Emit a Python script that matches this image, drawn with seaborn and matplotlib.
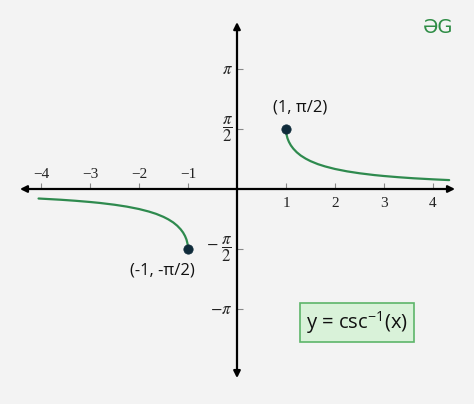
import numpy as np
import pandas as pd
import matplotlib
matplotlib.use("Agg")
import matplotlib.pyplot as plt
import seaborn as sns

# Values (y = csc^-1(x))
upper_x = [1.0, 1.01, 1.03, 1.06, 1.1, 1.15, 1.22, 1.3, 1.4, 1.5, 1.65, 1.8, 2.0, 2.25, 2.5, 2.8, 3.0, 3.3, 3.6, 4.0, 4.33]
upper_y = [1.571, 1.429, 1.328, 1.233, 1.141, 1.055, 0.961, 0.877, 0.796, 0.730, 0.651, 0.590, 0.524, 0.461, 0.412, 0.365, 0.340, 0.308, 0.281, 0.253, 0.233]
lower_x = [-4.05, -3.6, -3.3, -3.0, -2.8, -2.5, -2.25, -2.0, -1.8, -1.65, -1.5, -1.4, -1.3, -1.22, -1.15, -1.1, -1.06, -1.03, -1.01, -1.0]
lower_y = [-0.249, -0.281, -0.308, -0.340, -0.365, -0.412, -0.461, -0.524, -0.590, -0.651, -0.730, -0.796, -0.877, -0.961, -1.055, -1.141, -1.233, -1.328, -1.429, -1.571]

end_x = [1, -1]
end_y = [np.pi / 2, -np.pi / 2]
end_labels = ["(1, π/2)", "(-1, -π/2)"]

x_ticks = [-4, -3, -2, -1, 1, 2, 3, 4]
y_ticks = [np.pi, np.pi / 2, -np.pi / 2, -np.pi]
y_tick_labels = [r"$\pi$", r"$\dfrac{\pi}{2}$", r"$-\ \dfrac{\pi}{2}$", r"$-\pi$"]

bg = "#f3f3f3"
green = "#2e8a4e"
dot = "#0f2b3a"

sns.set_style("white")
plt.rcParams["mathtext.fontset"] = "stix"

fig = plt.figure(figsize=(4.74, 4.04), dpi=100)
fig.patch.set_facecolor(bg)
ax = fig.add_axes([0, 0, 1, 1])
ax.set_facecolor(bg)

# 49 px per x unit, 38.2 px per y unit; origin at pixel (237, 189)
ax.set_xlim(-237 / 49, 237 / 49)
ax.set_ylim(-215 / 38.2, 189 / 38.2)
ax.axis("off")

# axes with arrows
ax.annotate("", xy=(4.45, 0), xytext=(-4.43, 0),
            arrowprops=dict(arrowstyle="<|-|>", color="black", lw=1.6, mutation_scale=10,
                            shrinkA=0, shrinkB=0))
ax.annotate("", xy=(0, 4.37), xytext=(0, -4.95),
            arrowprops=dict(arrowstyle="<|-|>", color="black", lw=1.6, mutation_scale=10,
                            shrinkA=0, shrinkB=0))

# tick marks
ax.vlines(x_ticks, 0, 0.16, color="#888888", lw=0.8)
ax.hlines(y_ticks, 0, 0.12, color="#888888", lw=0.8)

for t in x_ticks:
    lab = "\u2212" + str(-t) if t < 0 else str(t)
    ax.text(t, 0.39 if t < 0 else -0.37, lab, ha="center", va="center",
            family="Liberation Serif", fontsize=11, color="#222222")
for t, lab in zip(y_ticks, y_tick_labels):
    ax.text(-0.09, t, lab, ha="right", va="center", fontsize=12, color="#222222")

# curve branches
up = pd.DataFrame({"x": upper_x, "y": upper_y})
lo = pd.DataFrame({"x": lower_x, "y": lower_y})
sns.lineplot(data=up, x="x", y="y", ax=ax, color=green, lw=1.6, sort=False)
sns.lineplot(data=lo, x="x", y="y", ax=ax, color=green, lw=1.6, sort=False)

pts = pd.DataFrame({"x": end_x, "y": end_y})
sns.scatterplot(data=pts, x="x", y="y", ax=ax, color=dot, s=45, edgecolor=dot, zorder=5)

ax.text(end_x[0] + 0.28, end_y[0] + 0.55, end_labels[0], ha="center", va="center",
        family="Open Sans", fontsize=12, color="#111111")
ax.text(end_x[1] - 0.52, end_y[1] - 0.55, end_labels[1], ha="center", va="center",
        family="Open Sans", fontsize=12, color="#111111")

# formula box
ax.text(2.45, -3.5, r"y = csc$^{\mathregular{-1}}$(x)", ha="center", va="center",
        family="Open Sans", fontsize=14.5, color="#111111",
        bbox=dict(boxstyle="square,pad=0.3", facecolor="#d9f2d9", edgecolor="#5db56a", lw=1.2))

# logo
fig.text(0.924, 0.933, "ƏG", ha="center", va="center", fontsize=14,
         color="#2f8d46", family="DejaVu Sans")

fig.savefig("out.png", dpi=100, facecolor=bg)
